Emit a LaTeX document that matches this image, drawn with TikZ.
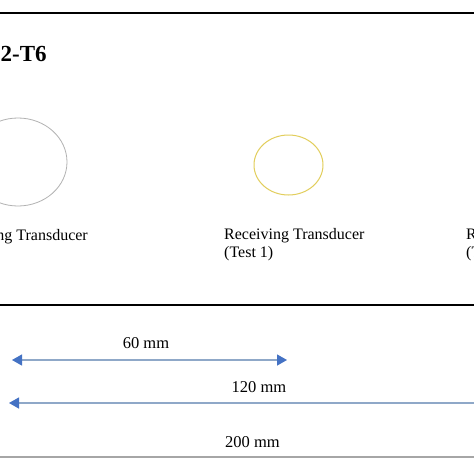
\documentclass[tikz,border=0pt]{standalone}
\usepackage{fontspec}
\setmainfont{Liberation Serif}
\usetikzlibrary{arrows.meta}
\definecolor{tipblue}{RGB}{68,114,196}
\definecolor{shaftblue}{RGB}{143,168,200}
\definecolor{ringgray}{RGB}{178,178,178}
\definecolor{ringyellow}{RGB}{226,206,92}
\definecolor{rulegray}{RGB}{166,166,166}
\tikzset{
  labeltext/.style={font=\fontsize{16}{18}\selectfont, inner sep=0pt, anchor=base west},
  dimtext/.style={font=\fontsize{16.5}{18}\selectfont, inner sep=0pt, anchor=base},
  dimarrow/.style={shaftblue, line width=1.3pt},
  dimtip/.tip={Triangle[length=10pt, width=11pt, color=tipblue]},
}
\begin{document}
\begin{tikzpicture}[x=1pt, y=-1pt]
\useasboundingbox (0,0) rectangle (474,474);
\clip (0,0) rectangle (474,474);
\fill[white] (0,0) rectangle (474,474);
% frame rules
\draw[line width=2pt] (-5,12.5) -- (480,12.5);
\draw[line width=2pt] (-5,305) -- (480,305);
\draw[rulegray, line width=1.8pt] (-5,457) -- (480,457);
% title
\node[font=\bfseries\fontsize{23}{26}\selectfont, inner sep=0pt, anchor=base west] (title) at (0.5,61) {2-T6};
% transducers
\draw[ringgray, line width=0.8pt] (18,162) ellipse [x radius=49, y radius=44];
\draw[ringyellow, line width=1pt] (288.5,165) ellipse [x radius=34.5, y radius=30];
\node[labeltext, anchor=base east] (tx) at (88,240) {Transmitting Transducer};
\node[labeltext] (rx1) at (224,239) {Receiving Transducer};
\node[labeltext] (rx1test) at (224,257) {(Test 1)};
\node[labeltext] (rx2) at (466,239) {Receiving Transducer};
\node[labeltext] (rx2test) at (466,257) {(Test 2)};
% distances
\coordinate (a0) at (12,360);
\coordinate (a1) at (287,360);
\coordinate (b0) at (9,403);
\coordinate (b1) at (490,403);
\draw[dimarrow, dimtip-dimtip] (a0) -- (a1);
\draw[dimarrow, dimtip-] (b0) -- (b1);
\node[dimtext] (d60) at (146,348) {60 mm};
\node[dimtext] (d120) at (259,392) {120 mm};
\node[dimtext] (d200) at (252.5,447) {200 mm};
\end{tikzpicture}
\end{document}
